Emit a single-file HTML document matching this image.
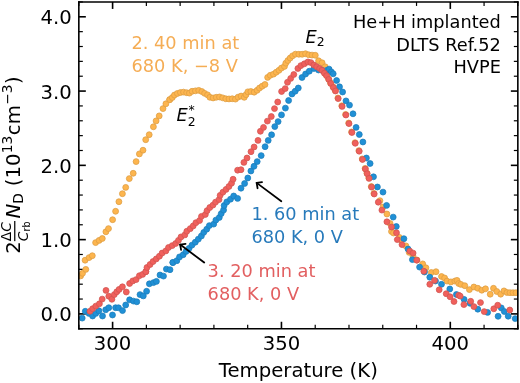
<!DOCTYPE html>
<html><head><meta charset="utf-8"><style>html,body{margin:0;padding:0;background:#fff;overflow:hidden}svg{display:block}</style></head><body>
<svg width="520" height="383" viewBox="0 0 260 191.5" version="1.1">
<defs>
<style type="text/css">*{stroke-linejoin: round; stroke-linecap: butt}</style>
</defs>
<g id="figure_1">
<g id="patch_1">
<path d="M 0 191.5 
L 260 191.5 
L 260 0 
L 0 0 
z
" style="fill: #ffffff"/>
</g>
<g id="axes_1">
<g id="patch_2">
<path d="M 39.415 164.38 
L 258.92 164.38 
L 258.92 0.97 
L 39.415 0.97 
z
" style="fill: #ffffff"/>
</g>
<g id="matplotlib.axis_1">
<g id="xtick_1">
<g id="line2d_1">
<g>
<path d="M 56.3 164.38 L 56.3 160.88" style="stroke: #000000; stroke-width: 0.8"/>
</g>
</g>
<g id="line2d_2">
<g>
<path d="M 56.3 0.97 L 56.3 4.47" style="stroke: #000000; stroke-width: 0.8"/>
</g>
</g>
<g id="text_1">
<text style="font-size: 9.83px; font-family: 'DejaVu Sans', 'Bitstream Vera Sans', 'Computer Modern Sans Serif', 'Lucida Grande', 'Verdana', 'Geneva', 'Lucid', 'Arial', 'Helvetica', 'Avant Garde', sans-serif; text-anchor: middle" x="56.3" y="174.849264" transform="rotate(-0 56.3 174.849264)">300</text>
</g>
</g>
<g id="xtick_2">
<g id="line2d_3">
<g>
<path d="M 140.725 164.38 L 140.725 160.88" style="stroke: #000000; stroke-width: 0.8"/>
</g>
</g>
<g id="line2d_4">
<g>
<path d="M 140.725 0.97 L 140.725 4.47" style="stroke: #000000; stroke-width: 0.8"/>
</g>
</g>
<g id="text_2">
<text style="font-size: 9.83px; font-family: 'DejaVu Sans', 'Bitstream Vera Sans', 'Computer Modern Sans Serif', 'Lucida Grande', 'Verdana', 'Geneva', 'Lucid', 'Arial', 'Helvetica', 'Avant Garde', sans-serif; text-anchor: middle" x="140.725" y="174.849264" transform="rotate(-0 140.725 174.849264)">350</text>
</g>
</g>
<g id="xtick_3">
<g id="line2d_5">
<g>
<path d="M 225.15 164.38 L 225.15 160.88" style="stroke: #000000; stroke-width: 0.8"/>
</g>
</g>
<g id="line2d_6">
<g>
<path d="M 225.15 0.97 L 225.15 4.47" style="stroke: #000000; stroke-width: 0.8"/>
</g>
</g>
<g id="text_3">
<text style="font-size: 9.83px; font-family: 'DejaVu Sans', 'Bitstream Vera Sans', 'Computer Modern Sans Serif', 'Lucida Grande', 'Verdana', 'Geneva', 'Lucid', 'Arial', 'Helvetica', 'Avant Garde', sans-serif; text-anchor: middle" x="225.15" y="174.849264" transform="rotate(-0 225.15 174.849264)">400</text>
</g>
</g>
<g id="xtick_4">
<g id="line2d_7">
<g>
<path d="M 39.415 164.38 L 39.415 162.38" style="stroke: #000000; stroke-width: 0.6"/>
</g>
</g>
<g id="line2d_8">
<g>
<path d="M 39.415 0.97 L 39.415 2.97" style="stroke: #000000; stroke-width: 0.6"/>
</g>
</g>
</g>
<g id="xtick_5">
<g id="line2d_9">
<g>
<path d="M 73.185 164.38 L 73.185 162.38" style="stroke: #000000; stroke-width: 0.6"/>
</g>
</g>
<g id="line2d_10">
<g>
<path d="M 73.185 0.97 L 73.185 2.97" style="stroke: #000000; stroke-width: 0.6"/>
</g>
</g>
</g>
<g id="xtick_6">
<g id="line2d_11">
<g>
<path d="M 90.07 164.38 L 90.07 162.38" style="stroke: #000000; stroke-width: 0.6"/>
</g>
</g>
<g id="line2d_12">
<g>
<path d="M 90.07 0.97 L 90.07 2.97" style="stroke: #000000; stroke-width: 0.6"/>
</g>
</g>
</g>
<g id="xtick_7">
<g id="line2d_13">
<g>
<path d="M 106.955 164.38 L 106.955 162.38" style="stroke: #000000; stroke-width: 0.6"/>
</g>
</g>
<g id="line2d_14">
<g>
<path d="M 106.955 0.97 L 106.955 2.97" style="stroke: #000000; stroke-width: 0.6"/>
</g>
</g>
</g>
<g id="xtick_8">
<g id="line2d_15">
<g>
<path d="M 123.84 164.38 L 123.84 162.38" style="stroke: #000000; stroke-width: 0.6"/>
</g>
</g>
<g id="line2d_16">
<g>
<path d="M 123.84 0.97 L 123.84 2.97" style="stroke: #000000; stroke-width: 0.6"/>
</g>
</g>
</g>
<g id="xtick_9">
<g id="line2d_17">
<g>
<path d="M 157.61 164.38 L 157.61 162.38" style="stroke: #000000; stroke-width: 0.6"/>
</g>
</g>
<g id="line2d_18">
<g>
<path d="M 157.61 0.97 L 157.61 2.97" style="stroke: #000000; stroke-width: 0.6"/>
</g>
</g>
</g>
<g id="xtick_10">
<g id="line2d_19">
<g>
<path d="M 174.495 164.38 L 174.495 162.38" style="stroke: #000000; stroke-width: 0.6"/>
</g>
</g>
<g id="line2d_20">
<g>
<path d="M 174.495 0.97 L 174.495 2.97" style="stroke: #000000; stroke-width: 0.6"/>
</g>
</g>
</g>
<g id="xtick_11">
<g id="line2d_21">
<g>
<path d="M 191.38 164.38 L 191.38 162.38" style="stroke: #000000; stroke-width: 0.6"/>
</g>
</g>
<g id="line2d_22">
<g>
<path d="M 191.38 0.97 L 191.38 2.97" style="stroke: #000000; stroke-width: 0.6"/>
</g>
</g>
</g>
<g id="xtick_12">
<g id="line2d_23">
<g>
<path d="M 208.265 164.38 L 208.265 162.38" style="stroke: #000000; stroke-width: 0.6"/>
</g>
</g>
<g id="line2d_24">
<g>
<path d="M 208.265 0.97 L 208.265 2.97" style="stroke: #000000; stroke-width: 0.6"/>
</g>
</g>
</g>
<g id="xtick_13">
<g id="line2d_25">
<g>
<path d="M 242.035 164.38 L 242.035 162.38" style="stroke: #000000; stroke-width: 0.6"/>
</g>
</g>
<g id="line2d_26">
<g>
<path d="M 242.035 0.97 L 242.035 2.97" style="stroke: #000000; stroke-width: 0.6"/>
</g>
</g>
</g>
<g id="xtick_14">
<g id="line2d_27">
<g>
<path d="M 258.92 164.38 L 258.92 162.38" style="stroke: #000000; stroke-width: 0.6"/>
</g>
</g>
<g id="line2d_28">
<g>
<path d="M 258.92 0.97 L 258.92 2.97" style="stroke: #000000; stroke-width: 0.6"/>
</g>
</g>
</g>
<g id="text_4">
<text style="font-size: 9.83px; font-family: 'DejaVu Sans', 'Bitstream Vera Sans', 'Computer Modern Sans Serif', 'Lucida Grande', 'Verdana', 'Geneva', 'Lucid', 'Arial', 'Helvetica', 'Avant Garde', sans-serif; text-anchor: middle" x="149.1675" y="188.362861" transform="rotate(-0 149.1675 188.362861)">Temperature (K)</text>
</g>
</g>
<g id="matplotlib.axis_2">
<g id="ytick_1">
<g id="line2d_29">
<g>
<path d="M 39.415 156.952 L 42.915 156.952" style="stroke: #000000; stroke-width: 0.8"/>
</g>
</g>
<g id="line2d_30">
<g>
<path d="M 258.92 156.952 L 255.42 156.952" style="stroke: #000000; stroke-width: 0.8"/>
</g>
</g>
<g id="text_5">
<text style="font-size: 9.83px; font-family: 'DejaVu Sans', 'Bitstream Vera Sans', 'Computer Modern Sans Serif', 'Lucida Grande', 'Verdana', 'Geneva', 'Lucid', 'Arial', 'Helvetica', 'Avant Garde', sans-serif; text-anchor: end" x="35.915" y="160.686905" transform="rotate(-0 35.915 160.686905)">0.0</text>
</g>
</g>
<g id="ytick_2">
<g id="line2d_31">
<g>
<path d="M 39.415 119.814 L 42.915 119.814" style="stroke: #000000; stroke-width: 0.8"/>
</g>
</g>
<g id="line2d_32">
<g>
<path d="M 258.92 119.814 L 255.42 119.814" style="stroke: #000000; stroke-width: 0.8"/>
</g>
</g>
<g id="text_6">
<text style="font-size: 9.83px; font-family: 'DejaVu Sans', 'Bitstream Vera Sans', 'Computer Modern Sans Serif', 'Lucida Grande', 'Verdana', 'Geneva', 'Lucid', 'Arial', 'Helvetica', 'Avant Garde', sans-serif; text-anchor: end" x="35.915" y="123.548268" transform="rotate(-0 35.915 123.548268)">1.0</text>
</g>
</g>
<g id="ytick_3">
<g id="line2d_33">
<g>
<path d="M 39.415 82.675 L 42.915 82.675" style="stroke: #000000; stroke-width: 0.8"/>
</g>
</g>
<g id="line2d_34">
<g>
<path d="M 258.92 82.675 L 255.42 82.675" style="stroke: #000000; stroke-width: 0.8"/>
</g>
</g>
<g id="text_7">
<text style="font-size: 9.83px; font-family: 'DejaVu Sans', 'Bitstream Vera Sans', 'Computer Modern Sans Serif', 'Lucida Grande', 'Verdana', 'Geneva', 'Lucid', 'Arial', 'Helvetica', 'Avant Garde', sans-serif; text-anchor: end" x="35.915" y="86.409632" transform="rotate(-0 35.915 86.409632)">2.0</text>
</g>
</g>
<g id="ytick_4">
<g id="line2d_35">
<g>
<path d="M 39.415 45.5364 L 42.915 45.5364" style="stroke: #000000; stroke-width: 0.8"/>
</g>
</g>
<g id="line2d_36">
<g>
<path d="M 258.92 45.5364 L 255.42 45.5364" style="stroke: #000000; stroke-width: 0.8"/>
</g>
</g>
<g id="text_8">
<text style="font-size: 9.83px; font-family: 'DejaVu Sans', 'Bitstream Vera Sans', 'Computer Modern Sans Serif', 'Lucida Grande', 'Verdana', 'Geneva', 'Lucid', 'Arial', 'Helvetica', 'Avant Garde', sans-serif; text-anchor: end" x="35.915" y="49.270996" transform="rotate(-0 35.915 49.270996)">3.0</text>
</g>
</g>
<g id="ytick_5">
<g id="line2d_37">
<g>
<path d="M 39.415 8.39773 L 42.915 8.39773" style="stroke: #000000; stroke-width: 0.8"/>
</g>
</g>
<g id="line2d_38">
<g>
<path d="M 258.92 8.39773 L 255.42 8.39773" style="stroke: #000000; stroke-width: 0.8"/>
</g>
</g>
<g id="text_9">
<text style="font-size: 9.83px; font-family: 'DejaVu Sans', 'Bitstream Vera Sans', 'Computer Modern Sans Serif', 'Lucida Grande', 'Verdana', 'Geneva', 'Lucid', 'Arial', 'Helvetica', 'Avant Garde', sans-serif; text-anchor: end" x="35.915" y="12.132359" transform="rotate(-0 35.915 12.132359)">4.0</text>
</g>
</g>
<g id="ytick_6">
<g id="line2d_39">
<g>
<path d="M 39.415 164.38 L 41.415 164.38" style="stroke: #000000; stroke-width: 0.6"/>
</g>
</g>
<g id="line2d_40">
<g>
<path d="M 258.92 164.38 L 256.92 164.38" style="stroke: #000000; stroke-width: 0.6"/>
</g>
</g>
</g>
<g id="ytick_7">
<g id="line2d_41">
<g>
<path d="M 39.415 149.525 L 41.415 149.525" style="stroke: #000000; stroke-width: 0.6"/>
</g>
</g>
<g id="line2d_42">
<g>
<path d="M 258.92 149.525 L 256.92 149.525" style="stroke: #000000; stroke-width: 0.6"/>
</g>
</g>
</g>
<g id="ytick_8">
<g id="line2d_43">
<g>
<path d="M 39.415 142.097 L 41.415 142.097" style="stroke: #000000; stroke-width: 0.6"/>
</g>
</g>
<g id="line2d_44">
<g>
<path d="M 258.92 142.097 L 256.92 142.097" style="stroke: #000000; stroke-width: 0.6"/>
</g>
</g>
</g>
<g id="ytick_9">
<g id="line2d_45">
<g>
<path d="M 39.415 134.669 L 41.415 134.669" style="stroke: #000000; stroke-width: 0.6"/>
</g>
</g>
<g id="line2d_46">
<g>
<path d="M 258.92 134.669 L 256.92 134.669" style="stroke: #000000; stroke-width: 0.6"/>
</g>
</g>
</g>
<g id="ytick_10">
<g id="line2d_47">
<g>
<path d="M 39.415 127.241 L 41.415 127.241" style="stroke: #000000; stroke-width: 0.6"/>
</g>
</g>
<g id="line2d_48">
<g>
<path d="M 258.92 127.241 L 256.92 127.241" style="stroke: #000000; stroke-width: 0.6"/>
</g>
</g>
</g>
<g id="ytick_11">
<g id="line2d_49">
<g>
<path d="M 39.415 112.386 L 41.415 112.386" style="stroke: #000000; stroke-width: 0.6"/>
</g>
</g>
<g id="line2d_50">
<g>
<path d="M 258.92 112.386 L 256.92 112.386" style="stroke: #000000; stroke-width: 0.6"/>
</g>
</g>
</g>
<g id="ytick_12">
<g id="line2d_51">
<g>
<path d="M 39.415 104.958 L 41.415 104.958" style="stroke: #000000; stroke-width: 0.6"/>
</g>
</g>
<g id="line2d_52">
<g>
<path d="M 258.92 104.958 L 256.92 104.958" style="stroke: #000000; stroke-width: 0.6"/>
</g>
</g>
</g>
<g id="ytick_13">
<g id="line2d_53">
<g>
<path d="M 39.415 97.5305 L 41.415 97.5305" style="stroke: #000000; stroke-width: 0.6"/>
</g>
</g>
<g id="line2d_54">
<g>
<path d="M 258.92 97.5305 L 256.92 97.5305" style="stroke: #000000; stroke-width: 0.6"/>
</g>
</g>
</g>
<g id="ytick_14">
<g id="line2d_55">
<g>
<path d="M 39.415 90.1027 L 41.415 90.1027" style="stroke: #000000; stroke-width: 0.6"/>
</g>
</g>
<g id="line2d_56">
<g>
<path d="M 258.92 90.1027 L 256.92 90.1027" style="stroke: #000000; stroke-width: 0.6"/>
</g>
</g>
</g>
<g id="ytick_15">
<g id="line2d_57">
<g>
<path d="M 39.415 75.2473 L 41.415 75.2473" style="stroke: #000000; stroke-width: 0.6"/>
</g>
</g>
<g id="line2d_58">
<g>
<path d="M 258.92 75.2473 L 256.92 75.2473" style="stroke: #000000; stroke-width: 0.6"/>
</g>
</g>
</g>
<g id="ytick_16">
<g id="line2d_59">
<g>
<path d="M 39.415 67.8195 L 41.415 67.8195" style="stroke: #000000; stroke-width: 0.6"/>
</g>
</g>
<g id="line2d_60">
<g>
<path d="M 258.92 67.8195 L 256.92 67.8195" style="stroke: #000000; stroke-width: 0.6"/>
</g>
</g>
</g>
<g id="ytick_17">
<g id="line2d_61">
<g>
<path d="M 39.415 60.3918 L 41.415 60.3918" style="stroke: #000000; stroke-width: 0.6"/>
</g>
</g>
<g id="line2d_62">
<g>
<path d="M 258.92 60.3918 L 256.92 60.3918" style="stroke: #000000; stroke-width: 0.6"/>
</g>
</g>
</g>
<g id="ytick_18">
<g id="line2d_63">
<g>
<path d="M 39.415 52.9641 L 41.415 52.9641" style="stroke: #000000; stroke-width: 0.6"/>
</g>
</g>
<g id="line2d_64">
<g>
<path d="M 258.92 52.9641 L 256.92 52.9641" style="stroke: #000000; stroke-width: 0.6"/>
</g>
</g>
</g>
<g id="ytick_19">
<g id="line2d_65">
<g>
<path d="M 39.415 38.1086 L 41.415 38.1086" style="stroke: #000000; stroke-width: 0.6"/>
</g>
</g>
<g id="line2d_66">
<g>
<path d="M 258.92 38.1086 L 256.92 38.1086" style="stroke: #000000; stroke-width: 0.6"/>
</g>
</g>
</g>
<g id="ytick_20">
<g id="line2d_67">
<g>
<path d="M 39.415 30.6809 L 41.415 30.6809" style="stroke: #000000; stroke-width: 0.6"/>
</g>
</g>
<g id="line2d_68">
<g>
<path d="M 258.92 30.6809 L 256.92 30.6809" style="stroke: #000000; stroke-width: 0.6"/>
</g>
</g>
</g>
<g id="ytick_21">
<g id="line2d_69">
<g>
<path d="M 39.415 23.2532 L 41.415 23.2532" style="stroke: #000000; stroke-width: 0.6"/>
</g>
</g>
<g id="line2d_70">
<g>
<path d="M 258.92 23.2532 L 256.92 23.2532" style="stroke: #000000; stroke-width: 0.6"/>
</g>
</g>
</g>
<g id="ytick_22">
<g id="line2d_71">
<g>
<path d="M 39.415 15.8255 L 41.415 15.8255" style="stroke: #000000; stroke-width: 0.6"/>
</g>
</g>
<g id="line2d_72">
<g>
<path d="M 258.92 15.8255 L 256.92 15.8255" style="stroke: #000000; stroke-width: 0.6"/>
</g>
</g>
</g>
<g id="ytick_23">
<g id="line2d_73">
<g>
<path d="M 39.415 0.97 L 41.415 0.97" style="stroke: #000000; stroke-width: 0.6"/>
</g>
</g>
<g id="line2d_74">
<g>
<path d="M 258.92 0.97 L 256.92 0.97" style="stroke: #000000; stroke-width: 0.6"/>
</g>
</g>
</g>
<g id="text_10">
<!-- $2\frac{\Delta C}{C_{\rm rb}}N_{\rm D}$ ($10^{13}$cm$^{-3}$) -->
<g transform="translate(10.320628 126.86085) rotate(-90)">
<text>
<tspan x="0" y="-0.344687" style="font-size: 9.83px; font-family: 'DejaVu Sans'">2</tspan>
<tspan x="30.573533" y="-0.344687" style="font-size: 9.83px; font-family: 'DejaVu Sans'"> </tspan>
<tspan x="33.71251" y="-0.344687" style="font-size: 9.83px; font-family: 'DejaVu Sans'">(</tspan>
<tspan x="37.56511" y="-0.344687" style="font-size: 9.83px; font-family: 'DejaVu Sans'">1</tspan>
<tspan x="43.847886" y="-0.344687" style="font-size: 9.83px; font-family: 'DejaVu Sans'">0</tspan>
<tspan x="59.295688" y="-0.344687" style="font-size: 9.83px; font-family: 'DejaVu Sans'">c</tspan>
<tspan x="64.72501" y="-0.344687" style="font-size: 9.83px; font-family: 'DejaVu Sans'">m</tspan>
<tspan x="84.903458" y="-0.344687" style="font-size: 9.83px; font-family: 'DejaVu Sans'">)</tspan>
<tspan x="6.282776" y="-4.804688" style="font-size: 6.881px; font-family: 'DejaVu Sans'">Δ</tspan>
<tspan x="24.977335" y="1.295938" style="font-size: 6.881px; font-family: 'DejaVu Sans'">D</tspan>
<tspan x="50.226365" y="-4.172812" style="font-size: 6.881px; font-family: 'DejaVu Sans'">1</tspan>
<tspan x="54.624308" y="-4.172812" style="font-size: 6.881px; font-family: 'DejaVu Sans'">3</tspan>
<tspan x="74.440159" y="-4.172812" style="font-size: 6.881px; font-family: 'DejaVu Sans'">−</tspan>
<tspan x="80.232078" y="-4.172812" style="font-size: 6.881px; font-family: 'DejaVu Sans'">3</tspan>
<tspan x="6.282776" y="3.560937" style="font-style: oblique; font-size: 6.881px; font-family: 'DejaVu Sans'">C</tspan>
<tspan x="11.011493" y="-4.804688" style="font-style: oblique; font-size: 6.881px; font-family: 'DejaVu Sans'">C</tspan>
<tspan x="11.109375" y="4.709375" style="font-size: 4.8167px; font-family: 'DejaVu Sans'">r</tspan>
<tspan x="13.098744" y="4.709375" style="font-size: 4.8167px; font-family: 'DejaVu Sans'">b</tspan>
<tspan x="17.590372" y="-0.344687" style="font-style: oblique; font-size: 9.83px; font-family: 'DejaVu Sans'">N</tspan>
</text>
<rect x="6.282776" y="-3.24875" width="10.078846" height="0.614375"/>
</g>
</g>
</g>
<g id="line2d_75">
<g clip-path="url(#pa8a8beb045)">
<circle cx="40.3" cy="137.95" r="1.475" style="fill: #fdb54e; stroke: #dc9d44; stroke-width: 0.38"/>
<circle cx="41.25" cy="136.65" r="1.475" style="fill: #fdb54e; stroke: #dc9d44; stroke-width: 0.38"/>
<circle cx="42.9" cy="134.7" r="1.475" style="fill: #fdb54e; stroke: #dc9d44; stroke-width: 0.38"/>
<circle cx="42.55" cy="130.1" r="1.475" style="fill: #fdb54e; stroke: #dc9d44; stroke-width: 0.38"/>
<circle cx="44.55" cy="128.8" r="1.475" style="fill: #fdb54e; stroke: #dc9d44; stroke-width: 0.38"/>
<circle cx="46.15" cy="127.85" r="1.475" style="fill: #fdb54e; stroke: #dc9d44; stroke-width: 0.38"/>
<circle cx="47.8" cy="121.3" r="1.475" style="fill: #fdb54e; stroke: #dc9d44; stroke-width: 0.38"/>
<circle cx="49.55" cy="120.2" r="1.475" style="fill: #fdb54e; stroke: #dc9d44; stroke-width: 0.38"/>
<circle cx="51.15" cy="119.25" r="1.475" style="fill: #fdb54e; stroke: #dc9d44; stroke-width: 0.38"/>
<circle cx="52.95" cy="115.9" r="1.475" style="fill: #fdb54e; stroke: #dc9d44; stroke-width: 0.38"/>
<circle cx="54.25" cy="114.3" r="1.475" style="fill: #fdb54e; stroke: #dc9d44; stroke-width: 0.38"/>
<circle cx="56.3" cy="109.85" r="1.475" style="fill: #fdb54e; stroke: #dc9d44; stroke-width: 0.38"/>
<circle cx="57.8" cy="105.65" r="1.475" style="fill: #fdb54e; stroke: #dc9d44; stroke-width: 0.38"/>
<circle cx="59.45" cy="100.85" r="1.475" style="fill: #fdb54e; stroke: #dc9d44; stroke-width: 0.38"/>
<circle cx="61.2" cy="96.85" r="1.475" style="fill: #fdb54e; stroke: #dc9d44; stroke-width: 0.38"/>
<circle cx="62.85" cy="93.7" r="1.475" style="fill: #fdb54e; stroke: #dc9d44; stroke-width: 0.38"/>
<circle cx="64.65" cy="89.3" r="1.475" style="fill: #fdb54e; stroke: #dc9d44; stroke-width: 0.38"/>
<circle cx="66.6" cy="86.65" r="1.475" style="fill: #fdb54e; stroke: #dc9d44; stroke-width: 0.38"/>
<circle cx="68.05" cy="80.8" r="1.475" style="fill: #fdb54e; stroke: #dc9d44; stroke-width: 0.38"/>
<circle cx="69.7" cy="76.95" r="1.475" style="fill: #fdb54e; stroke: #dc9d44; stroke-width: 0.38"/>
<circle cx="71.5" cy="75.1" r="1.475" style="fill: #fdb54e; stroke: #dc9d44; stroke-width: 0.38"/>
<circle cx="72.85" cy="69.85" r="1.475" style="fill: #fdb54e; stroke: #dc9d44; stroke-width: 0.38"/>
<circle cx="74.6" cy="67.35" r="1.475" style="fill: #fdb54e; stroke: #dc9d44; stroke-width: 0.38"/>
<circle cx="76.7" cy="63.4" r="1.475" style="fill: #fdb54e; stroke: #dc9d44; stroke-width: 0.38"/>
<circle cx="78.05" cy="60.45" r="1.475" style="fill: #fdb54e; stroke: #dc9d44; stroke-width: 0.38"/>
<circle cx="79.6" cy="57.95" r="1.475" style="fill: #fdb54e; stroke: #dc9d44; stroke-width: 0.38"/>
<circle cx="81.5" cy="54.3" r="1.475" style="fill: #fdb54e; stroke: #dc9d44; stroke-width: 0.38"/>
<circle cx="82.95" cy="51.9" r="1.475" style="fill: #fdb54e; stroke: #dc9d44; stroke-width: 0.38"/>
<circle cx="84.85" cy="49.8" r="1.475" style="fill: #fdb54e; stroke: #dc9d44; stroke-width: 0.38"/>
<circle cx="84.867" cy="49.8189" r="1.475" style="fill: #fdb54e; stroke: #dc9d44; stroke-width: 0.38"/>
<circle cx="86.1439" cy="48.778" r="1.475" style="fill: #fdb54e; stroke: #dc9d44; stroke-width: 0.38"/>
<circle cx="87.2357" cy="47.5177" r="1.475" style="fill: #fdb54e; stroke: #dc9d44; stroke-width: 0.38"/>
<circle cx="88.6931" cy="46.7281" r="1.475" style="fill: #fdb54e; stroke: #dc9d44; stroke-width: 0.38"/>
<circle cx="90.2181" cy="46.2656" r="1.475" style="fill: #fdb54e; stroke: #dc9d44; stroke-width: 0.38"/>
<circle cx="91.7691" cy="46.0595" r="1.475" style="fill: #fdb54e; stroke: #dc9d44; stroke-width: 0.38"/>
<circle cx="93.3366" cy="46.3478" r="1.475" style="fill: #fdb54e; stroke: #dc9d44; stroke-width: 0.38"/>
<circle cx="94.7042" cy="46.5605" r="1.475" style="fill: #fdb54e; stroke: #dc9d44; stroke-width: 0.38"/>
<circle cx="96.0565" cy="45.6407" r="1.475" style="fill: #fdb54e; stroke: #dc9d44; stroke-width: 0.38"/>
<circle cx="97.7061" cy="45.4194" r="1.475" style="fill: #fdb54e; stroke: #dc9d44; stroke-width: 0.38"/>
<circle cx="99.3577" cy="45.1817" r="1.475" style="fill: #fdb54e; stroke: #dc9d44; stroke-width: 0.38"/>
<circle cx="100.941" cy="45.778" r="1.475" style="fill: #fdb54e; stroke: #dc9d44; stroke-width: 0.38"/>
<circle cx="102.314" cy="46.6719" r="1.475" style="fill: #fdb54e; stroke: #dc9d44; stroke-width: 0.38"/>
<circle cx="103.785" cy="47.4338" r="1.475" style="fill: #fdb54e; stroke: #dc9d44; stroke-width: 0.38"/>
<circle cx="104.947" cy="48.6515" r="1.475" style="fill: #fdb54e; stroke: #dc9d44; stroke-width: 0.38"/>
<circle cx="106.552" cy="48.9721" r="1.475" style="fill: #fdb54e; stroke: #dc9d44; stroke-width: 0.38"/>
<circle cx="108.137" cy="48.6394" r="1.475" style="fill: #fdb54e; stroke: #dc9d44; stroke-width: 0.38"/>
<circle cx="109.762" cy="48.489" r="1.475" style="fill: #fdb54e; stroke: #dc9d44; stroke-width: 0.38"/>
<circle cx="111.333" cy="48.9209" r="1.475" style="fill: #fdb54e; stroke: #dc9d44; stroke-width: 0.38"/>
<circle cx="112.886" cy="49.3928" r="1.475" style="fill: #fdb54e; stroke: #dc9d44; stroke-width: 0.38"/>
<circle cx="114.507" cy="49.4673" r="1.475" style="fill: #fdb54e; stroke: #dc9d44; stroke-width: 0.38"/>
<circle cx="116.12" cy="49.3714" r="1.475" style="fill: #fdb54e; stroke: #dc9d44; stroke-width: 0.38"/>
<circle cx="117.722" cy="49.5533" r="1.475" style="fill: #fdb54e; stroke: #dc9d44; stroke-width: 0.38"/>
<circle cx="119.041" cy="48.563" r="1.475" style="fill: #fdb54e; stroke: #dc9d44; stroke-width: 0.38"/>
<circle cx="120.543" cy="48.0363" r="1.475" style="fill: #fdb54e; stroke: #dc9d44; stroke-width: 0.38"/>
<circle cx="122.136" cy="48.6706" r="1.475" style="fill: #fdb54e; stroke: #dc9d44; stroke-width: 0.38"/>
<circle cx="123.016" cy="47.342" r="1.475" style="fill: #fdb54e; stroke: #dc9d44; stroke-width: 0.38"/>
<circle cx="123.922" cy="45.9127" r="1.475" style="fill: #fdb54e; stroke: #dc9d44; stroke-width: 0.38"/>
<circle cx="125.429" cy="45.7532" r="1.475" style="fill: #fdb54e; stroke: #dc9d44; stroke-width: 0.38"/>
<circle cx="127.088" cy="46.0907" r="1.475" style="fill: #fdb54e; stroke: #dc9d44; stroke-width: 0.38"/>
<circle cx="128.537" cy="45.1611" r="1.475" style="fill: #fdb54e; stroke: #dc9d44; stroke-width: 0.38"/>
<circle cx="129.75" cy="44.0281" r="1.475" style="fill: #fdb54e; stroke: #dc9d44; stroke-width: 0.38"/>
<circle cx="131.099" cy="43.106" r="1.475" style="fill: #fdb54e; stroke: #dc9d44; stroke-width: 0.38"/>
<circle cx="132.488" cy="42.2486" r="1.475" style="fill: #fdb54e; stroke: #dc9d44; stroke-width: 0.38"/>
<circle cx="133.821" cy="38.6997" r="1.475" style="fill: #fdb54e; stroke: #dc9d44; stroke-width: 0.38"/>
<circle cx="135.142" cy="37.6536" r="1.475" style="fill: #fdb54e; stroke: #dc9d44; stroke-width: 0.38"/>
<circle cx="136.737" cy="37.0868" r="1.475" style="fill: #fdb54e; stroke: #dc9d44; stroke-width: 0.38"/>
<circle cx="138.115" cy="36.1165" r="1.475" style="fill: #fdb54e; stroke: #dc9d44; stroke-width: 0.38"/>
<circle cx="139.49" cy="35.1589" r="1.475" style="fill: #fdb54e; stroke: #dc9d44; stroke-width: 0.38"/>
<circle cx="140.739" cy="34.0369" r="1.475" style="fill: #fdb54e; stroke: #dc9d44; stroke-width: 0.38"/>
<circle cx="142.239" cy="33.1976" r="1.475" style="fill: #fdb54e; stroke: #dc9d44; stroke-width: 0.38"/>
<circle cx="142.901" cy="31.5812" r="1.475" style="fill: #fdb54e; stroke: #dc9d44; stroke-width: 0.38"/>
<circle cx="143.949" cy="30.2752" r="1.475" style="fill: #fdb54e; stroke: #dc9d44; stroke-width: 0.38"/>
<circle cx="145.078" cy="29.0308" r="1.475" style="fill: #fdb54e; stroke: #dc9d44; stroke-width: 0.38"/>
<circle cx="146.283" cy="27.9266" r="1.475" style="fill: #fdb54e; stroke: #dc9d44; stroke-width: 0.38"/>
<circle cx="147.733" cy="27.0818" r="1.475" style="fill: #fdb54e; stroke: #dc9d44; stroke-width: 0.38"/>
<circle cx="149.427" cy="27.1391" r="1.475" style="fill: #fdb54e; stroke: #dc9d44; stroke-width: 0.38"/>
<circle cx="151.075" cy="27.1417" r="1.475" style="fill: #fdb54e; stroke: #dc9d44; stroke-width: 0.38"/>
<circle cx="152.766" cy="26.8569" r="1.475" style="fill: #fdb54e; stroke: #dc9d44; stroke-width: 0.38"/>
<circle cx="154.37" cy="27.391" r="1.475" style="fill: #fdb54e; stroke: #dc9d44; stroke-width: 0.38"/>
<circle cx="156.006" cy="27.5439" r="1.475" style="fill: #fdb54e; stroke: #dc9d44; stroke-width: 0.38"/>
<circle cx="157.647" cy="27.6434" r="1.475" style="fill: #fdb54e; stroke: #dc9d44; stroke-width: 0.38"/>
<circle cx="159.3" cy="30.4" r="1.475" style="fill: #fdb54e; stroke: #dc9d44; stroke-width: 0.38"/>
<circle cx="161.05" cy="31.4" r="1.475" style="fill: #fdb54e; stroke: #dc9d44; stroke-width: 0.38"/>
<circle cx="162.6" cy="33.4" r="1.475" style="fill: #fdb54e; stroke: #dc9d44; stroke-width: 0.38"/>
<circle cx="163.15" cy="37.55" r="1.475" style="fill: #fdb54e; stroke: #dc9d44; stroke-width: 0.38"/>
<circle cx="164.25" cy="39.45" r="1.475" style="fill: #fdb54e; stroke: #dc9d44; stroke-width: 0.38"/>
<circle cx="165.25" cy="41.45" r="1.475" style="fill: #fdb54e; stroke: #dc9d44; stroke-width: 0.38"/>
<circle cx="166.55" cy="43.45" r="1.475" style="fill: #fdb54e; stroke: #dc9d44; stroke-width: 0.38"/>
<circle cx="167.6" cy="45.2" r="1.475" style="fill: #fdb54e; stroke: #dc9d44; stroke-width: 0.38"/>
<circle cx="168.95" cy="49" r="1.475" style="fill: #fdb54e; stroke: #dc9d44; stroke-width: 0.38"/>
<circle cx="170.9" cy="52.9" r="1.475" style="fill: #fdb54e; stroke: #dc9d44; stroke-width: 0.38"/>
<circle cx="172.8" cy="57.2" r="1.475" style="fill: #fdb54e; stroke: #dc9d44; stroke-width: 0.38"/>
<circle cx="174.35" cy="61.5" r="1.475" style="fill: #fdb54e; stroke: #dc9d44; stroke-width: 0.38"/>
<circle cx="175.8" cy="65.95" r="1.475" style="fill: #fdb54e; stroke: #dc9d44; stroke-width: 0.38"/>
<circle cx="177.5" cy="71.35" r="1.475" style="fill: #fdb54e; stroke: #dc9d44; stroke-width: 0.38"/>
<circle cx="179.45" cy="75.3" r="1.475" style="fill: #fdb54e; stroke: #dc9d44; stroke-width: 0.38"/>
<circle cx="181.1" cy="79.45" r="1.475" style="fill: #fdb54e; stroke: #dc9d44; stroke-width: 0.38"/>
<circle cx="182.55" cy="84.2" r="1.475" style="fill: #fdb54e; stroke: #dc9d44; stroke-width: 0.38"/>
<circle cx="183.45" cy="86.55" r="1.475" style="fill: #fdb54e; stroke: #dc9d44; stroke-width: 0.38"/>
<circle cx="184.4" cy="88.9" r="1.475" style="fill: #fdb54e; stroke: #dc9d44; stroke-width: 0.38"/>
<circle cx="185.65" cy="93.25" r="1.475" style="fill: #fdb54e; stroke: #dc9d44; stroke-width: 0.38"/>
<circle cx="186.95" cy="96.7" r="1.475" style="fill: #fdb54e; stroke: #dc9d44; stroke-width: 0.38"/>
<circle cx="189.95" cy="100.35" r="1.475" style="fill: #fdb54e; stroke: #dc9d44; stroke-width: 0.38"/>
<circle cx="191.5" cy="103.5" r="1.475" style="fill: #fdb54e; stroke: #dc9d44; stroke-width: 0.38"/>
<circle cx="193.45" cy="107" r="1.475" style="fill: #fdb54e; stroke: #dc9d44; stroke-width: 0.38"/>
<circle cx="195.05" cy="111.7" r="1.475" style="fill: #fdb54e; stroke: #dc9d44; stroke-width: 0.38"/>
<circle cx="195.75" cy="115.75" r="1.475" style="fill: #fdb54e; stroke: #dc9d44; stroke-width: 0.38"/>
<circle cx="196.75" cy="116.5" r="1.475" style="fill: #fdb54e; stroke: #dc9d44; stroke-width: 0.38"/>
<circle cx="199.7" cy="118.7" r="1.475" style="fill: #fdb54e; stroke: #dc9d44; stroke-width: 0.38"/>
<circle cx="200.5" cy="120" r="1.475" style="fill: #fdb54e; stroke: #dc9d44; stroke-width: 0.38"/>
<circle cx="202.95" cy="122.95" r="1.475" style="fill: #fdb54e; stroke: #dc9d44; stroke-width: 0.38"/>
<circle cx="204.6" cy="126.2" r="1.475" style="fill: #fdb54e; stroke: #dc9d44; stroke-width: 0.38"/>
<circle cx="206.5" cy="128" r="1.475" style="fill: #fdb54e; stroke: #dc9d44; stroke-width: 0.38"/>
<circle cx="208.5" cy="130" r="1.475" style="fill: #fdb54e; stroke: #dc9d44; stroke-width: 0.38"/>
<circle cx="211.35" cy="131.95" r="1.475" style="fill: #fdb54e; stroke: #dc9d44; stroke-width: 0.38"/>
<circle cx="212.95" cy="133.9" r="1.475" style="fill: #fdb54e; stroke: #dc9d44; stroke-width: 0.38"/>
<circle cx="215.65" cy="136.25" r="1.475" style="fill: #fdb54e; stroke: #dc9d44; stroke-width: 0.38"/>
<circle cx="218" cy="135.85" r="1.475" style="fill: #fdb54e; stroke: #dc9d44; stroke-width: 0.38"/>
<circle cx="220.75" cy="138.25" r="1.475" style="fill: #fdb54e; stroke: #dc9d44; stroke-width: 0.38"/>
<circle cx="222.3" cy="139" r="1.475" style="fill: #fdb54e; stroke: #dc9d44; stroke-width: 0.38"/>
<circle cx="223.5" cy="140.55" r="1.475" style="fill: #fdb54e; stroke: #dc9d44; stroke-width: 0.38"/>
<circle cx="225.45" cy="140.95" r="1.475" style="fill: #fdb54e; stroke: #dc9d44; stroke-width: 0.38"/>
<circle cx="227.4" cy="140.55" r="1.475" style="fill: #fdb54e; stroke: #dc9d44; stroke-width: 0.38"/>
<circle cx="228.5" cy="140.2" r="1.475" style="fill: #fdb54e; stroke: #dc9d44; stroke-width: 0.38"/>
<circle cx="229.35" cy="141.75" r="1.475" style="fill: #fdb54e; stroke: #dc9d44; stroke-width: 0.38"/>
<circle cx="230.45" cy="142.2" r="1.475" style="fill: #fdb54e; stroke: #dc9d44; stroke-width: 0.38"/>
<circle cx="232.4" cy="142.85" r="1.475" style="fill: #fdb54e; stroke: #dc9d44; stroke-width: 0.38"/>
<circle cx="234.7" cy="144.8" r="1.475" style="fill: #fdb54e; stroke: #dc9d44; stroke-width: 0.38"/>
<circle cx="236.95" cy="143.5" r="1.475" style="fill: #fdb54e; stroke: #dc9d44; stroke-width: 0.38"/>
<circle cx="238.9" cy="144.15" r="1.475" style="fill: #fdb54e; stroke: #dc9d44; stroke-width: 0.38"/>
<circle cx="240.9" cy="145.1" r="1.475" style="fill: #fdb54e; stroke: #dc9d44; stroke-width: 0.38"/>
<circle cx="242.75" cy="144.4" r="1.475" style="fill: #fdb54e; stroke: #dc9d44; stroke-width: 0.38"/>
<circle cx="245.1" cy="147.1" r="1.475" style="fill: #fdb54e; stroke: #dc9d44; stroke-width: 0.38"/>
<circle cx="246.75" cy="144.15" r="1.475" style="fill: #fdb54e; stroke: #dc9d44; stroke-width: 0.38"/>
<circle cx="248.4" cy="145.75" r="1.475" style="fill: #fdb54e; stroke: #dc9d44; stroke-width: 0.38"/>
<circle cx="250.35" cy="147.1" r="1.475" style="fill: #fdb54e; stroke: #dc9d44; stroke-width: 0.38"/>
<circle cx="252" cy="145.45" r="1.475" style="fill: #fdb54e; stroke: #dc9d44; stroke-width: 0.38"/>
<circle cx="253.5" cy="146.25" r="1.475" style="fill: #fdb54e; stroke: #dc9d44; stroke-width: 0.38"/>
<circle cx="255" cy="146.35" r="1.475" style="fill: #fdb54e; stroke: #dc9d44; stroke-width: 0.38"/>
<circle cx="256.5" cy="146.35" r="1.475" style="fill: #fdb54e; stroke: #dc9d44; stroke-width: 0.38"/>
<circle cx="258" cy="146.35" r="1.475" style="fill: #fdb54e; stroke: #dc9d44; stroke-width: 0.38"/>
</g>
</g>
<g id="line2d_76">
<g clip-path="url(#pa8a8beb045)">
<circle cx="41.1" cy="159.05" r="1.475" style="fill: #2090d6; stroke: #1c7dba; stroke-width: 0.38"/>
<circle cx="42.65" cy="155.65" r="1.475" style="fill: #2090d6; stroke: #1c7dba; stroke-width: 0.38"/>
<circle cx="44.5" cy="156.7" r="1.475" style="fill: #2090d6; stroke: #1c7dba; stroke-width: 0.38"/>
<circle cx="46.3" cy="158" r="1.475" style="fill: #2090d6; stroke: #1c7dba; stroke-width: 0.38"/>
<circle cx="47.9" cy="156.7" r="1.475" style="fill: #2090d6; stroke: #1c7dba; stroke-width: 0.38"/>
<circle cx="49.45" cy="155.4" r="1.475" style="fill: #2090d6; stroke: #1c7dba; stroke-width: 0.38"/>
<circle cx="51.25" cy="158" r="1.475" style="fill: #2090d6; stroke: #1c7dba; stroke-width: 0.38"/>
<circle cx="52.85" cy="154.9" r="1.475" style="fill: #2090d6; stroke: #1c7dba; stroke-width: 0.38"/>
<circle cx="54.4" cy="153.85" r="1.475" style="fill: #2090d6; stroke: #1c7dba; stroke-width: 0.38"/>
<circle cx="56.25" cy="157.5" r="1.475" style="fill: #2090d6; stroke: #1c7dba; stroke-width: 0.38"/>
<circle cx="57.8" cy="153.85" r="1.475" style="fill: #2090d6; stroke: #1c7dba; stroke-width: 0.38"/>
<circle cx="59.25" cy="153.9" r="1.475" style="fill: #2090d6; stroke: #1c7dba; stroke-width: 0.38"/>
<circle cx="61.25" cy="155.3" r="1.475" style="fill: #2090d6; stroke: #1c7dba; stroke-width: 0.38"/>
<circle cx="62.85" cy="152.5" r="1.475" style="fill: #2090d6; stroke: #1c7dba; stroke-width: 0.38"/>
<circle cx="64.8" cy="149.9" r="1.475" style="fill: #2090d6; stroke: #1c7dba; stroke-width: 0.38"/>
<circle cx="66.75" cy="150.55" r="1.475" style="fill: #2090d6; stroke: #1c7dba; stroke-width: 0.38"/>
<circle cx="68.4" cy="150.9" r="1.475" style="fill: #2090d6; stroke: #1c7dba; stroke-width: 0.38"/>
<circle cx="70" cy="147.3" r="1.475" style="fill: #2090d6; stroke: #1c7dba; stroke-width: 0.38"/>
<circle cx="71.65" cy="147.95" r="1.475" style="fill: #2090d6; stroke: #1c7dba; stroke-width: 0.38"/>
<circle cx="73.3" cy="145.65" r="1.475" style="fill: #2090d6; stroke: #1c7dba; stroke-width: 0.38"/>
<circle cx="74.7" cy="141.9" r="1.475" style="fill: #2090d6; stroke: #1c7dba; stroke-width: 0.38"/>
<circle cx="76.75" cy="141.3" r="1.475" style="fill: #2090d6; stroke: #1c7dba; stroke-width: 0.38"/>
<circle cx="78.2" cy="140.7" r="1.475" style="fill: #2090d6; stroke: #1c7dba; stroke-width: 0.38"/>
<circle cx="80" cy="137.5" r="1.475" style="fill: #2090d6; stroke: #1c7dba; stroke-width: 0.38"/>
<circle cx="81.75" cy="138.05" r="1.475" style="fill: #2090d6; stroke: #1c7dba; stroke-width: 0.38"/>
<circle cx="83.2" cy="134.55" r="1.475" style="fill: #2090d6; stroke: #1c7dba; stroke-width: 0.38"/>
<circle cx="85" cy="134.85" r="1.475" style="fill: #2090d6; stroke: #1c7dba; stroke-width: 0.38"/>
<circle cx="86.45" cy="131.3" r="1.475" style="fill: #2090d6; stroke: #1c7dba; stroke-width: 0.38"/>
<circle cx="86.3962" cy="131.216" r="1.475" style="fill: #2090d6; stroke: #1c7dba; stroke-width: 0.38"/>
<circle cx="88.4268" cy="130.344" r="1.475" style="fill: #2090d6; stroke: #1c7dba; stroke-width: 0.38"/>
<circle cx="89.7589" cy="128.461" r="1.475" style="fill: #2090d6; stroke: #1c7dba; stroke-width: 0.38"/>
<circle cx="91.6032" cy="127.35" r="1.475" style="fill: #2090d6; stroke: #1c7dba; stroke-width: 0.38"/>
<circle cx="93.037" cy="125.706" r="1.475" style="fill: #2090d6; stroke: #1c7dba; stroke-width: 0.38"/>
<circle cx="94.5384" cy="124.167" r="1.475" style="fill: #2090d6; stroke: #1c7dba; stroke-width: 0.38"/>
<circle cx="95.9817" cy="122.55" r="1.475" style="fill: #2090d6; stroke: #1c7dba; stroke-width: 0.38"/>
<circle cx="97.6382" cy="121.1" r="1.475" style="fill: #2090d6; stroke: #1c7dba; stroke-width: 0.38"/>
<circle cx="99.1679" cy="119.552" r="1.475" style="fill: #2090d6; stroke: #1c7dba; stroke-width: 0.38"/>
<circle cx="100.693" cy="117.991" r="1.475" style="fill: #2090d6; stroke: #1c7dba; stroke-width: 0.38"/>
<circle cx="101.898" cy="116.171" r="1.475" style="fill: #2090d6; stroke: #1c7dba; stroke-width: 0.38"/>
<circle cx="103.381" cy="114.587" r="1.475" style="fill: #2090d6; stroke: #1c7dba; stroke-width: 0.38"/>
<circle cx="104.676" cy="112.806" r="1.475" style="fill: #2090d6; stroke: #1c7dba; stroke-width: 0.38"/>
<circle cx="106.858" cy="112.056" r="1.475" style="fill: #2090d6; stroke: #1c7dba; stroke-width: 0.38"/>
<circle cx="107.937" cy="110.041" r="1.475" style="fill: #2090d6; stroke: #1c7dba; stroke-width: 0.38"/>
<circle cx="109.647" cy="108.73" r="1.475" style="fill: #2090d6; stroke: #1c7dba; stroke-width: 0.38"/>
<circle cx="110.616" cy="106.798" r="1.475" style="fill: #2090d6; stroke: #1c7dba; stroke-width: 0.38"/>
<circle cx="111.785" cy="105.015" r="1.475" style="fill: #2090d6; stroke: #1c7dba; stroke-width: 0.38"/>
<circle cx="112.076" cy="102.745" r="1.475" style="fill: #2090d6; stroke: #1c7dba; stroke-width: 0.38"/>
<circle cx="113.402" cy="100.944" r="1.475" style="fill: #2090d6; stroke: #1c7dba; stroke-width: 0.38"/>
<circle cx="115.25" cy="99.6" r="1.475" style="fill: #2090d6; stroke: #1c7dba; stroke-width: 0.38"/>
<circle cx="116.85" cy="98" r="1.475" style="fill: #2090d6; stroke: #1c7dba; stroke-width: 0.38"/>
<circle cx="118.8" cy="99.2" r="1.475" style="fill: #2090d6; stroke: #1c7dba; stroke-width: 0.38"/>
<circle cx="120.5" cy="94.1" r="1.475" style="fill: #2090d6; stroke: #1c7dba; stroke-width: 0.38"/>
<circle cx="122.3" cy="91.75" r="1.475" style="fill: #2090d6; stroke: #1c7dba; stroke-width: 0.38"/>
<circle cx="123.9" cy="89" r="1.475" style="fill: #2090d6; stroke: #1c7dba; stroke-width: 0.38"/>
<circle cx="125.45" cy="85.5" r="1.475" style="fill: #2090d6; stroke: #1c7dba; stroke-width: 0.38"/>
<circle cx="127" cy="83.15" r="1.475" style="fill: #2090d6; stroke: #1c7dba; stroke-width: 0.38"/>
<circle cx="128.6" cy="80.8" r="1.475" style="fill: #2090d6; stroke: #1c7dba; stroke-width: 0.38"/>
<circle cx="130.6" cy="77.8" r="1.475" style="fill: #2090d6; stroke: #1c7dba; stroke-width: 0.38"/>
<circle cx="132.55" cy="73.35" r="1.475" style="fill: #2090d6; stroke: #1c7dba; stroke-width: 0.38"/>
<circle cx="134.1" cy="70.2" r="1.475" style="fill: #2090d6; stroke: #1c7dba; stroke-width: 0.38"/>
<circle cx="135.8" cy="67.4" r="1.475" style="fill: #2090d6; stroke: #1c7dba; stroke-width: 0.38"/>
<circle cx="137.4" cy="63.3" r="1.475" style="fill: #2090d6; stroke: #1c7dba; stroke-width: 0.38"/>
<circle cx="139.05" cy="60.8" r="1.475" style="fill: #2090d6; stroke: #1c7dba; stroke-width: 0.38"/>
<circle cx="140.75" cy="57.45" r="1.475" style="fill: #2090d6; stroke: #1c7dba; stroke-width: 0.38"/>
<circle cx="142.7" cy="54.05" r="1.475" style="fill: #2090d6; stroke: #1c7dba; stroke-width: 0.38"/>
<circle cx="144.3" cy="50.25" r="1.475" style="fill: #2090d6; stroke: #1c7dba; stroke-width: 0.38"/>
<circle cx="146" cy="47" r="1.475" style="fill: #2090d6; stroke: #1c7dba; stroke-width: 0.38"/>
<circle cx="147.6" cy="45.6" r="1.475" style="fill: #2090d6; stroke: #1c7dba; stroke-width: 0.38"/>
<circle cx="149.15" cy="44" r="1.475" style="fill: #2090d6; stroke: #1c7dba; stroke-width: 0.38"/>
<circle cx="151" cy="38.75" r="1.475" style="fill: #2090d6; stroke: #1c7dba; stroke-width: 0.38"/>
<circle cx="152.8" cy="37" r="1.475" style="fill: #2090d6; stroke: #1c7dba; stroke-width: 0.38"/>
<circle cx="154.65" cy="35.6" r="1.475" style="fill: #2090d6; stroke: #1c7dba; stroke-width: 0.38"/>
<circle cx="156.95" cy="34.25" r="1.475" style="fill: #2090d6; stroke: #1c7dba; stroke-width: 0.38"/>
<circle cx="159.25" cy="35" r="1.475" style="fill: #2090d6; stroke: #1c7dba; stroke-width: 0.38"/>
<circle cx="161.25" cy="35.25" r="1.475" style="fill: #2090d6; stroke: #1c7dba; stroke-width: 0.38"/>
<circle cx="163.25" cy="35.25" r="1.475" style="fill: #2090d6; stroke: #1c7dba; stroke-width: 0.38"/>
<circle cx="164.55" cy="34.55" r="1.475" style="fill: #2090d6; stroke: #1c7dba; stroke-width: 0.38"/>
<circle cx="165.7" cy="36" r="1.475" style="fill: #2090d6; stroke: #1c7dba; stroke-width: 0.38"/>
<circle cx="166.6" cy="36.9" r="1.475" style="fill: #2090d6; stroke: #1c7dba; stroke-width: 0.38"/>
<circle cx="168.3" cy="40.25" r="1.475" style="fill: #2090d6; stroke: #1c7dba; stroke-width: 0.38"/>
<circle cx="169.75" cy="43.4" r="1.475" style="fill: #2090d6; stroke: #1c7dba; stroke-width: 0.38"/>
<circle cx="171.3" cy="46" r="1.475" style="fill: #2090d6; stroke: #1c7dba; stroke-width: 0.38"/>
<circle cx="173" cy="50.45" r="1.475" style="fill: #2090d6; stroke: #1c7dba; stroke-width: 0.38"/>
<circle cx="174.75" cy="52.55" r="1.475" style="fill: #2090d6; stroke: #1c7dba; stroke-width: 0.38"/>
<circle cx="176.5" cy="56.9" r="1.475" style="fill: #2090d6; stroke: #1c7dba; stroke-width: 0.38"/>
<circle cx="178.05" cy="63.7" r="1.475" style="fill: #2090d6; stroke: #1c7dba; stroke-width: 0.38"/>
<circle cx="179.65" cy="67.25" r="1.475" style="fill: #2090d6; stroke: #1c7dba; stroke-width: 0.38"/>
<circle cx="181.45" cy="71" r="1.475" style="fill: #2090d6; stroke: #1c7dba; stroke-width: 0.38"/>
<circle cx="183.2" cy="79" r="1.475" style="fill: #2090d6; stroke: #1c7dba; stroke-width: 0.38"/>
<circle cx="185.05" cy="81.75" r="1.475" style="fill: #2090d6; stroke: #1c7dba; stroke-width: 0.38"/>
<circle cx="186.75" cy="88.4" r="1.475" style="fill: #2090d6; stroke: #1c7dba; stroke-width: 0.38"/>
<circle cx="188.7" cy="93.5" r="1.475" style="fill: #2090d6; stroke: #1c7dba; stroke-width: 0.38"/>
<circle cx="191.5" cy="96.05" r="1.475" style="fill: #2090d6; stroke: #1c7dba; stroke-width: 0.38"/>
<circle cx="193.3" cy="102.7" r="1.475" style="fill: #2090d6; stroke: #1c7dba; stroke-width: 0.38"/>
<circle cx="196.6" cy="108.55" r="1.475" style="fill: #2090d6; stroke: #1c7dba; stroke-width: 0.38"/>
<circle cx="198.15" cy="113.25" r="1.475" style="fill: #2090d6; stroke: #1c7dba; stroke-width: 0.38"/>
<circle cx="201.95" cy="119.35" r="1.475" style="fill: #2090d6; stroke: #1c7dba; stroke-width: 0.38"/>
<circle cx="204" cy="124.5" r="1.475" style="fill: #2090d6; stroke: #1c7dba; stroke-width: 0.38"/>
<circle cx="206.2" cy="129.8" r="1.475" style="fill: #2090d6; stroke: #1c7dba; stroke-width: 0.38"/>
<circle cx="209.8" cy="133.55" r="1.475" style="fill: #2090d6; stroke: #1c7dba; stroke-width: 0.38"/>
<circle cx="212.25" cy="136" r="1.475" style="fill: #2090d6; stroke: #1c7dba; stroke-width: 0.38"/>
<circle cx="214.9" cy="138.6" r="1.475" style="fill: #2090d6; stroke: #1c7dba; stroke-width: 0.38"/>
<circle cx="217.75" cy="140.5" r="1.475" style="fill: #2090d6; stroke: #1c7dba; stroke-width: 0.38"/>
<circle cx="220.75" cy="142.15" r="1.475" style="fill: #2090d6; stroke: #1c7dba; stroke-width: 0.38"/>
<circle cx="224.9" cy="144.5" r="1.475" style="fill: #2090d6; stroke: #1c7dba; stroke-width: 0.38"/>
<circle cx="228.2" cy="147.25" r="1.475" style="fill: #2090d6; stroke: #1c7dba; stroke-width: 0.38"/>
<circle cx="232.05" cy="149.7" r="1.475" style="fill: #2090d6; stroke: #1c7dba; stroke-width: 0.38"/>
<circle cx="235" cy="151.65" r="1.475" style="fill: #2090d6; stroke: #1c7dba; stroke-width: 0.38"/>
<circle cx="238.9" cy="154.6" r="1.475" style="fill: #2090d6; stroke: #1c7dba; stroke-width: 0.38"/>
<circle cx="243.8" cy="156.2" r="1.475" style="fill: #2090d6; stroke: #1c7dba; stroke-width: 0.38"/>
<circle cx="249.05" cy="158.15" r="1.475" style="fill: #2090d6; stroke: #1c7dba; stroke-width: 0.38"/>
<circle cx="250.65" cy="153.95" r="1.475" style="fill: #2090d6; stroke: #1c7dba; stroke-width: 0.38"/>
<circle cx="252.15" cy="155.75" r="1.475" style="fill: #2090d6; stroke: #1c7dba; stroke-width: 0.38"/>
<circle cx="254.1" cy="158.1" r="1.475" style="fill: #2090d6; stroke: #1c7dba; stroke-width: 0.38"/>
<circle cx="257.6" cy="159.3" r="1.475" style="fill: #2090d6; stroke: #1c7dba; stroke-width: 0.38"/>
</g>
</g>
<g id="line2d_77">
<g clip-path="url(#pa8a8beb045)">
<circle cx="45" cy="155.65" r="1.475" style="fill: #f0605c; stroke: #d15450; stroke-width: 0.38"/>
<circle cx="46.3" cy="154.35" r="1.475" style="fill: #f0605c; stroke: #d15450; stroke-width: 0.38"/>
<circle cx="47.9" cy="153.05" r="1.475" style="fill: #f0605c; stroke: #d15450; stroke-width: 0.38"/>
<circle cx="49.7" cy="151.9" r="1.475" style="fill: #f0605c; stroke: #d15450; stroke-width: 0.38"/>
<circle cx="51.1" cy="149.55" r="1.475" style="fill: #f0605c; stroke: #d15450; stroke-width: 0.38"/>
<circle cx="53" cy="145.2" r="1.475" style="fill: #f0605c; stroke: #d15450; stroke-width: 0.38"/>
<circle cx="54.4" cy="148.1" r="1.475" style="fill: #f0605c; stroke: #d15450; stroke-width: 0.38"/>
<circle cx="55.95" cy="149.65" r="1.475" style="fill: #f0605c; stroke: #d15450; stroke-width: 0.38"/>
<circle cx="57.15" cy="147.3" r="1.475" style="fill: #f0605c; stroke: #d15450; stroke-width: 0.38"/>
<circle cx="58.4" cy="145.9" r="1.475" style="fill: #f0605c; stroke: #d15450; stroke-width: 0.38"/>
<circle cx="59.55" cy="144.7" r="1.475" style="fill: #f0605c; stroke: #d15450; stroke-width: 0.38"/>
<circle cx="61.2" cy="143.4" r="1.475" style="fill: #f0605c; stroke: #d15450; stroke-width: 0.38"/>
<circle cx="63.15" cy="146" r="1.475" style="fill: #f0605c; stroke: #d15450; stroke-width: 0.38"/>
<circle cx="64.8" cy="141.75" r="1.475" style="fill: #f0605c; stroke: #d15450; stroke-width: 0.38"/>
<circle cx="66.4" cy="140.45" r="1.475" style="fill: #f0605c; stroke: #d15450; stroke-width: 0.38"/>
<circle cx="68.05" cy="139.8" r="1.475" style="fill: #f0605c; stroke: #d15450; stroke-width: 0.38"/>
<circle cx="69.7" cy="137.85" r="1.475" style="fill: #f0605c; stroke: #d15450; stroke-width: 0.38"/>
<circle cx="71.3" cy="137.2" r="1.475" style="fill: #f0605c; stroke: #d15450; stroke-width: 0.38"/>
<circle cx="72.95" cy="135.85" r="1.475" style="fill: #f0605c; stroke: #d15450; stroke-width: 0.38"/>
<circle cx="72.883" cy="135.812" r="1.475" style="fill: #f0605c; stroke: #d15450; stroke-width: 0.38"/>
<circle cx="73.476" cy="133.752" r="1.475" style="fill: #f0605c; stroke: #d15450; stroke-width: 0.38"/>
<circle cx="75.0403" cy="132.248" r="1.475" style="fill: #f0605c; stroke: #d15450; stroke-width: 0.38"/>
<circle cx="76.5135" cy="130.777" r="1.475" style="fill: #f0605c; stroke: #d15450; stroke-width: 0.38"/>
<circle cx="78.1277" cy="129.452" r="1.475" style="fill: #f0605c; stroke: #d15450; stroke-width: 0.38"/>
<circle cx="79.7074" cy="128.105" r="1.475" style="fill: #f0605c; stroke: #d15450; stroke-width: 0.38"/>
<circle cx="81.0703" cy="126.529" r="1.475" style="fill: #f0605c; stroke: #d15450; stroke-width: 0.38"/>
<circle cx="82.9304" cy="125.455" r="1.475" style="fill: #f0605c; stroke: #d15450; stroke-width: 0.38"/>
<circle cx="84.2554" cy="123.76" r="1.475" style="fill: #f0605c; stroke: #d15450; stroke-width: 0.38"/>
<circle cx="86.1028" cy="122.809" r="1.475" style="fill: #f0605c; stroke: #d15450; stroke-width: 0.38"/>
<circle cx="87.8544" cy="121.729" r="1.475" style="fill: #f0605c; stroke: #d15450; stroke-width: 0.38"/>
<circle cx="89.2331" cy="120.165" r="1.475" style="fill: #f0605c; stroke: #d15450; stroke-width: 0.38"/>
<circle cx="90.5106" cy="118.446" r="1.475" style="fill: #f0605c; stroke: #d15450; stroke-width: 0.38"/>
<circle cx="92.411" cy="117.46" r="1.475" style="fill: #f0605c; stroke: #d15450; stroke-width: 0.38"/>
<circle cx="93.4059" cy="115.63" r="1.475" style="fill: #f0605c; stroke: #d15450; stroke-width: 0.38"/>
<circle cx="95.1139" cy="114.319" r="1.475" style="fill: #f0605c; stroke: #d15450; stroke-width: 0.38"/>
<circle cx="96.6048" cy="112.945" r="1.475" style="fill: #f0605c; stroke: #d15450; stroke-width: 0.38"/>
<circle cx="97.955" cy="111.335" r="1.475" style="fill: #f0605c; stroke: #d15450; stroke-width: 0.38"/>
<circle cx="99.7946" cy="110.27" r="1.475" style="fill: #f0605c; stroke: #d15450; stroke-width: 0.38"/>
<circle cx="100.74" cy="108.187" r="1.475" style="fill: #f0605c; stroke: #d15450; stroke-width: 0.38"/>
<circle cx="102.671" cy="107.229" r="1.475" style="fill: #f0605c; stroke: #d15450; stroke-width: 0.38"/>
<circle cx="103.526" cy="105.337" r="1.475" style="fill: #f0605c; stroke: #d15450; stroke-width: 0.38"/>
<circle cx="104.908" cy="103.738" r="1.475" style="fill: #f0605c; stroke: #d15450; stroke-width: 0.38"/>
<circle cx="106.486" cy="102.549" r="1.475" style="fill: #f0605c; stroke: #d15450; stroke-width: 0.38"/>
<circle cx="107.78" cy="101.045" r="1.475" style="fill: #f0605c; stroke: #d15450; stroke-width: 0.38"/>
<circle cx="109.526" cy="99.7984" r="1.475" style="fill: #f0605c; stroke: #d15450; stroke-width: 0.38"/>
<circle cx="110.065" cy="97.677" r="1.475" style="fill: #f0605c; stroke: #d15450; stroke-width: 0.38"/>
<circle cx="111.475" cy="96.0583" r="1.475" style="fill: #f0605c; stroke: #d15450; stroke-width: 0.38"/>
<circle cx="113.037" cy="94.6887" r="1.475" style="fill: #f0605c; stroke: #d15450; stroke-width: 0.38"/>
<circle cx="114.489" cy="93.2179" r="1.475" style="fill: #f0605c; stroke: #d15450; stroke-width: 0.38"/>
<circle cx="115.768" cy="91.5833" r="1.475" style="fill: #f0605c; stroke: #d15450; stroke-width: 0.38"/>
<circle cx="116.541" cy="89.62" r="1.475" style="fill: #f0605c; stroke: #d15450; stroke-width: 0.38"/>
<circle cx="118.8" cy="85.1" r="1.475" style="fill: #f0605c; stroke: #d15450; stroke-width: 0.38"/>
<circle cx="120.5" cy="84.85" r="1.475" style="fill: #f0605c; stroke: #d15450; stroke-width: 0.38"/>
<circle cx="121.95" cy="81.2" r="1.475" style="fill: #f0605c; stroke: #d15450; stroke-width: 0.38"/>
<circle cx="123.5" cy="79" r="1.475" style="fill: #f0605c; stroke: #d15450; stroke-width: 0.38"/>
<circle cx="125.5" cy="75.85" r="1.475" style="fill: #f0605c; stroke: #d15450; stroke-width: 0.38"/>
<circle cx="127.05" cy="73.5" r="1.475" style="fill: #f0605c; stroke: #d15450; stroke-width: 0.38"/>
<circle cx="129" cy="70.2" r="1.475" style="fill: #f0605c; stroke: #d15450; stroke-width: 0.38"/>
<circle cx="130.2" cy="65.65" r="1.475" style="fill: #f0605c; stroke: #d15450; stroke-width: 0.38"/>
<circle cx="131.75" cy="63.7" r="1.475" style="fill: #f0605c; stroke: #d15450; stroke-width: 0.38"/>
<circle cx="133.7" cy="60.55" r="1.475" style="fill: #f0605c; stroke: #d15450; stroke-width: 0.38"/>
<circle cx="135.65" cy="58.25" r="1.475" style="fill: #f0605c; stroke: #d15450; stroke-width: 0.38"/>
<circle cx="137.25" cy="54.3" r="1.475" style="fill: #f0605c; stroke: #d15450; stroke-width: 0.38"/>
<circle cx="138.85" cy="51" r="1.475" style="fill: #f0605c; stroke: #d15450; stroke-width: 0.38"/>
<circle cx="140.8" cy="45.75" r="1.475" style="fill: #f0605c; stroke: #d15450; stroke-width: 0.38"/>
<circle cx="142.6" cy="44.3" r="1.475" style="fill: #f0605c; stroke: #d15450; stroke-width: 0.38"/>
<circle cx="143.75" cy="41.15" r="1.475" style="fill: #f0605c; stroke: #d15450; stroke-width: 0.38"/>
<circle cx="145.35" cy="39.2" r="1.475" style="fill: #f0605c; stroke: #d15450; stroke-width: 0.38"/>
<circle cx="146.9" cy="37.25" r="1.475" style="fill: #f0605c; stroke: #d15450; stroke-width: 0.38"/>
<circle cx="148.95" cy="34.25" r="1.475" style="fill: #f0605c; stroke: #d15450; stroke-width: 0.38"/>
<circle cx="150.45" cy="32.8" r="1.475" style="fill: #f0605c; stroke: #d15450; stroke-width: 0.38"/>
<circle cx="152.2" cy="31.9" r="1.475" style="fill: #f0605c; stroke: #d15450; stroke-width: 0.38"/>
<circle cx="153.95" cy="31" r="1.475" style="fill: #f0605c; stroke: #d15450; stroke-width: 0.38"/>
<circle cx="155.45" cy="31.3" r="1.475" style="fill: #f0605c; stroke: #d15450; stroke-width: 0.38"/>
<circle cx="156.9" cy="32.5" r="1.475" style="fill: #f0605c; stroke: #d15450; stroke-width: 0.38"/>
<circle cx="158.35" cy="33.35" r="1.475" style="fill: #f0605c; stroke: #d15450; stroke-width: 0.38"/>
<circle cx="159.85" cy="34.25" r="1.475" style="fill: #f0605c; stroke: #d15450; stroke-width: 0.38"/>
<circle cx="161" cy="35.15" r="1.475" style="fill: #f0605c; stroke: #d15450; stroke-width: 0.38"/>
<circle cx="162.2" cy="36.6" r="1.475" style="fill: #f0605c; stroke: #d15450; stroke-width: 0.38"/>
<circle cx="163.3" cy="37.85" r="1.475" style="fill: #f0605c; stroke: #d15450; stroke-width: 0.38"/>
<circle cx="164.4" cy="39.75" r="1.475" style="fill: #f0605c; stroke: #d15450; stroke-width: 0.38"/>
<circle cx="165.4" cy="41.75" r="1.475" style="fill: #f0605c; stroke: #d15450; stroke-width: 0.38"/>
<circle cx="166.7" cy="43.75" r="1.475" style="fill: #f0605c; stroke: #d15450; stroke-width: 0.38"/>
<circle cx="167.75" cy="45.5" r="1.475" style="fill: #f0605c; stroke: #d15450; stroke-width: 0.38"/>
<circle cx="169.1" cy="49.3" r="1.475" style="fill: #f0605c; stroke: #d15450; stroke-width: 0.38"/>
<circle cx="171.05" cy="53.2" r="1.475" style="fill: #f0605c; stroke: #d15450; stroke-width: 0.38"/>
<circle cx="172.95" cy="57.5" r="1.475" style="fill: #f0605c; stroke: #d15450; stroke-width: 0.38"/>
<circle cx="174.5" cy="61.8" r="1.475" style="fill: #f0605c; stroke: #d15450; stroke-width: 0.38"/>
<circle cx="175.95" cy="66.25" r="1.475" style="fill: #f0605c; stroke: #d15450; stroke-width: 0.38"/>
<circle cx="177.65" cy="71.65" r="1.475" style="fill: #f0605c; stroke: #d15450; stroke-width: 0.38"/>
<circle cx="179.6" cy="75.6" r="1.475" style="fill: #f0605c; stroke: #d15450; stroke-width: 0.38"/>
<circle cx="181.25" cy="79.75" r="1.475" style="fill: #f0605c; stroke: #d15450; stroke-width: 0.38"/>
<circle cx="182.7" cy="84.5" r="1.475" style="fill: #f0605c; stroke: #d15450; stroke-width: 0.38"/>
<circle cx="183.6" cy="86.85" r="1.475" style="fill: #f0605c; stroke: #d15450; stroke-width: 0.38"/>
<circle cx="184.55" cy="89.2" r="1.475" style="fill: #f0605c; stroke: #d15450; stroke-width: 0.38"/>
<circle cx="185.8" cy="93.55" r="1.475" style="fill: #f0605c; stroke: #d15450; stroke-width: 0.38"/>
<circle cx="187.1" cy="97" r="1.475" style="fill: #f0605c; stroke: #d15450; stroke-width: 0.38"/>
<circle cx="189.15" cy="101.1" r="1.475" style="fill: #f0605c; stroke: #d15450; stroke-width: 0.38"/>
<circle cx="190.95" cy="105.05" r="1.475" style="fill: #f0605c; stroke: #d15450; stroke-width: 0.38"/>
<circle cx="193.45" cy="110.9" r="1.475" style="fill: #f0605c; stroke: #d15450; stroke-width: 0.38"/>
<circle cx="195.75" cy="113.5" r="1.475" style="fill: #f0605c; stroke: #d15450; stroke-width: 0.38"/>
<circle cx="198.25" cy="116.4" r="1.475" style="fill: #f0605c; stroke: #d15450; stroke-width: 0.38"/>
<circle cx="198.65" cy="119.8" r="1.475" style="fill: #f0605c; stroke: #d15450; stroke-width: 0.38"/>
<circle cx="201" cy="122.3" r="1.475" style="fill: #f0605c; stroke: #d15450; stroke-width: 0.38"/>
<circle cx="204.9" cy="125.55" r="1.475" style="fill: #f0605c; stroke: #d15450; stroke-width: 0.38"/>
<circle cx="206.55" cy="126.55" r="1.475" style="fill: #f0605c; stroke: #d15450; stroke-width: 0.38"/>
<circle cx="208.35" cy="130.1" r="1.475" style="fill: #f0605c; stroke: #d15450; stroke-width: 0.38"/>
<circle cx="211.9" cy="135.6" r="1.475" style="fill: #f0605c; stroke: #d15450; stroke-width: 0.38"/>
<circle cx="214.9" cy="142.15" r="1.475" style="fill: #f0605c; stroke: #d15450; stroke-width: 0.38"/>
<circle cx="217.25" cy="140.2" r="1.475" style="fill: #f0605c; stroke: #d15450; stroke-width: 0.38"/>
<circle cx="219.6" cy="144.9" r="1.475" style="fill: #f0605c; stroke: #d15450; stroke-width: 0.38"/>
<circle cx="223.1" cy="146.85" r="1.475" style="fill: #f0605c; stroke: #d15450; stroke-width: 0.38"/>
<circle cx="225.05" cy="148.4" r="1.475" style="fill: #f0605c; stroke: #d15450; stroke-width: 0.38"/>
<circle cx="227" cy="150.75" r="1.475" style="fill: #f0605c; stroke: #d15450; stroke-width: 0.38"/>
<circle cx="229.35" cy="147.65" r="1.475" style="fill: #f0605c; stroke: #d15450; stroke-width: 0.38"/>
<circle cx="230.1" cy="148.05" r="1.475" style="fill: #f0605c; stroke: #d15450; stroke-width: 0.38"/>
<circle cx="231.95" cy="152.3" r="1.475" style="fill: #f0605c; stroke: #d15450; stroke-width: 0.38"/>
<circle cx="235.35" cy="150.65" r="1.475" style="fill: #f0605c; stroke: #d15450; stroke-width: 0.38"/>
<circle cx="236.95" cy="153.3" r="1.475" style="fill: #f0605c; stroke: #d15450; stroke-width: 0.38"/>
<circle cx="240.25" cy="151.3" r="1.475" style="fill: #f0605c; stroke: #d15450; stroke-width: 0.38"/>
<circle cx="242.1" cy="155.8" r="1.475" style="fill: #f0605c; stroke: #d15450; stroke-width: 0.38"/>
<circle cx="246.9" cy="154.4" r="1.475" style="fill: #f0605c; stroke: #d15450; stroke-width: 0.38"/>
<circle cx="248.85" cy="152.6" r="1.475" style="fill: #f0605c; stroke: #d15450; stroke-width: 0.38"/>
<circle cx="254.9" cy="155" r="1.475" style="fill: #f0605c; stroke: #d15450; stroke-width: 0.38"/>
</g>
</g>
<g id="patch_3">
<path d="M 39.415 164.38 
L 39.415 0.97 
" style="fill: none; stroke: #000000; stroke-width: 0.8; stroke-linejoin: miter; stroke-linecap: square"/>
</g>
<g id="patch_4">
<path d="M 258.92 164.38 
L 258.92 0.97 
" style="fill: none; stroke: #000000; stroke-width: 0.8; stroke-linejoin: miter; stroke-linecap: square"/>
</g>
<g id="patch_5">
<path d="M 39.415 164.38 
L 258.92 164.38 
" style="fill: none; stroke: #000000; stroke-width: 0.8; stroke-linejoin: miter; stroke-linecap: square"/>
</g>
<g id="patch_6">
<path d="M 39.415 0.97 
L 258.92 0.97 
" style="fill: none; stroke: #000000; stroke-width: 0.8; stroke-linejoin: miter; stroke-linecap: square"/>
</g>
<g id="text_11">
<text style="font-size: 8.88px; font-family: 'DejaVu Sans', 'Bitstream Vera Sans', 'Computer Modern Sans Serif', 'Lucida Grande', 'Verdana', 'Geneva', 'Lucid', 'Arial', 'Helvetica', 'Avant Garde', sans-serif" transform="translate(176.493475 13.928772)">He+H implanted</text>
<text style="font-size: 8.88px; font-family: 'DejaVu Sans', 'Bitstream Vera Sans', 'Computer Modern Sans Serif', 'Lucida Grande', 'Verdana', 'Geneva', 'Lucid', 'Arial', 'Helvetica', 'Avant Garde', sans-serif" transform="translate(198.16345 25.289386)">DLTS Ref.52</text>
<text style="font-size: 8.88px; font-family: 'DejaVu Sans', 'Bitstream Vera Sans', 'Computer Modern Sans Serif', 'Lucida Grande', 'Verdana', 'Geneva', 'Lucid', 'Arial', 'Helvetica', 'Avant Garde', sans-serif" transform="translate(226.732075 36.65)">HVPE</text>
</g>
<g id="text_12">
<text style="font-size: 8.88px; font-family: 'DejaVu Sans', 'Bitstream Vera Sans', 'Computer Modern Sans Serif', 'Lucida Grande', 'Verdana', 'Geneva', 'Lucid', 'Arial', 'Helvetica', 'Avant Garde', sans-serif; fill: #f5ad55" transform="translate(65.75 24.489386)">2. 40 min at</text>
<text style="font-size: 8.88px; font-family: 'DejaVu Sans', 'Bitstream Vera Sans', 'Computer Modern Sans Serif', 'Lucida Grande', 'Verdana', 'Geneva', 'Lucid', 'Arial', 'Helvetica', 'Avant Garde', sans-serif; fill: #f5ad55" transform="translate(65.75 35.85)">680 K, −8 V</text>
</g>
<g id="text_13">
<text style="font-size: 8.88px; font-family: 'DejaVu Sans', 'Bitstream Vera Sans', 'Computer Modern Sans Serif', 'Lucida Grande', 'Verdana', 'Geneva', 'Lucid', 'Arial', 'Helvetica', 'Avant Garde', sans-serif; fill: #277abb" transform="translate(125.7 110.189386)">1. 60 min at</text>
<text style="font-size: 8.88px; font-family: 'DejaVu Sans', 'Bitstream Vera Sans', 'Computer Modern Sans Serif', 'Lucida Grande', 'Verdana', 'Geneva', 'Lucid', 'Arial', 'Helvetica', 'Avant Garde', sans-serif; fill: #277abb" transform="translate(125.7 121.55)">680 K, 0 V</text>
</g>
<g id="text_14">
<text style="font-size: 8.88px; font-family: 'DejaVu Sans', 'Bitstream Vera Sans', 'Computer Modern Sans Serif', 'Lucida Grande', 'Verdana', 'Geneva', 'Lucid', 'Arial', 'Helvetica', 'Avant Garde', sans-serif; fill: #e25f60" transform="translate(103.8 138.389386)">3. 20 min at</text>
<text style="font-size: 8.88px; font-family: 'DejaVu Sans', 'Bitstream Vera Sans', 'Computer Modern Sans Serif', 'Lucida Grande', 'Verdana', 'Geneva', 'Lucid', 'Arial', 'Helvetica', 'Avant Garde', sans-serif; fill: #e25f60" transform="translate(103.8 149.75)">680 K, 0 V</text>
</g>
<g id="text_15">
<!-- $E_2$ -->
<g transform="translate(152.75 22.1)">
<text>
<tspan x="0" y="-0.4375" style="font-style: oblique; font-size: 8.88px; font-family: 'DejaVu Sans'">E</tspan>
<tspan x="5.607544" y="1.039062" style="font-size: 6.216px; font-family: 'DejaVu Sans'">2</tspan>
</text>
</g>
</g>
<g id="text_16">
<!-- $E_2^*$ -->
<g transform="translate(88.3 61.3)">
<text>
<tspan x="0" y="-0.873438" style="font-style: oblique; font-size: 8.88px; font-family: 'DejaVu Sans'">E</tspan>
<tspan x="5.607544" y="1.5875" style="font-size: 6.216px; font-family: 'DejaVu Sans'">2</tspan>
<tspan x="5.95" y="-4.31875" style="font-size: 6.216px; font-family: 'DejaVu Sans'">*</tspan>
</text>
</g>
</g>
<g id="patch_7">
<path d="M 140.65 100.6 
Q 134.225 95.825 128.324395 91.439726 
" style="fill: none; stroke: #000000; stroke-width: 0.9; stroke-linecap: round"/>
<path d="M 128.788261 94.111483 
L 128.324395 91.439726 
L 131.016414 91.113393 
" style="fill: none; stroke: #000000; stroke-width: 0.9; stroke-linecap: round"/>
</g>
<g id="patch_8">
<path d="M 102.1 131.25 
Q 95.825 126.575 90.073936 122.290343 
" style="fill: none; stroke: #000000; stroke-width: 0.9; stroke-linecap: round"/>
<path d="M 90.534656 124.962645 
L 90.073936 122.290343 
L 92.766337 121.967179 
" style="fill: none; stroke: #000000; stroke-width: 0.9; stroke-linecap: round"/>
</g>
</g>
</g>
<defs>
<clipPath id="pa8a8beb045">
<rect x="39.415" y="0.97" width="219.505" height="163.41"/>
</clipPath>
</defs>
</svg>

</body></html>
